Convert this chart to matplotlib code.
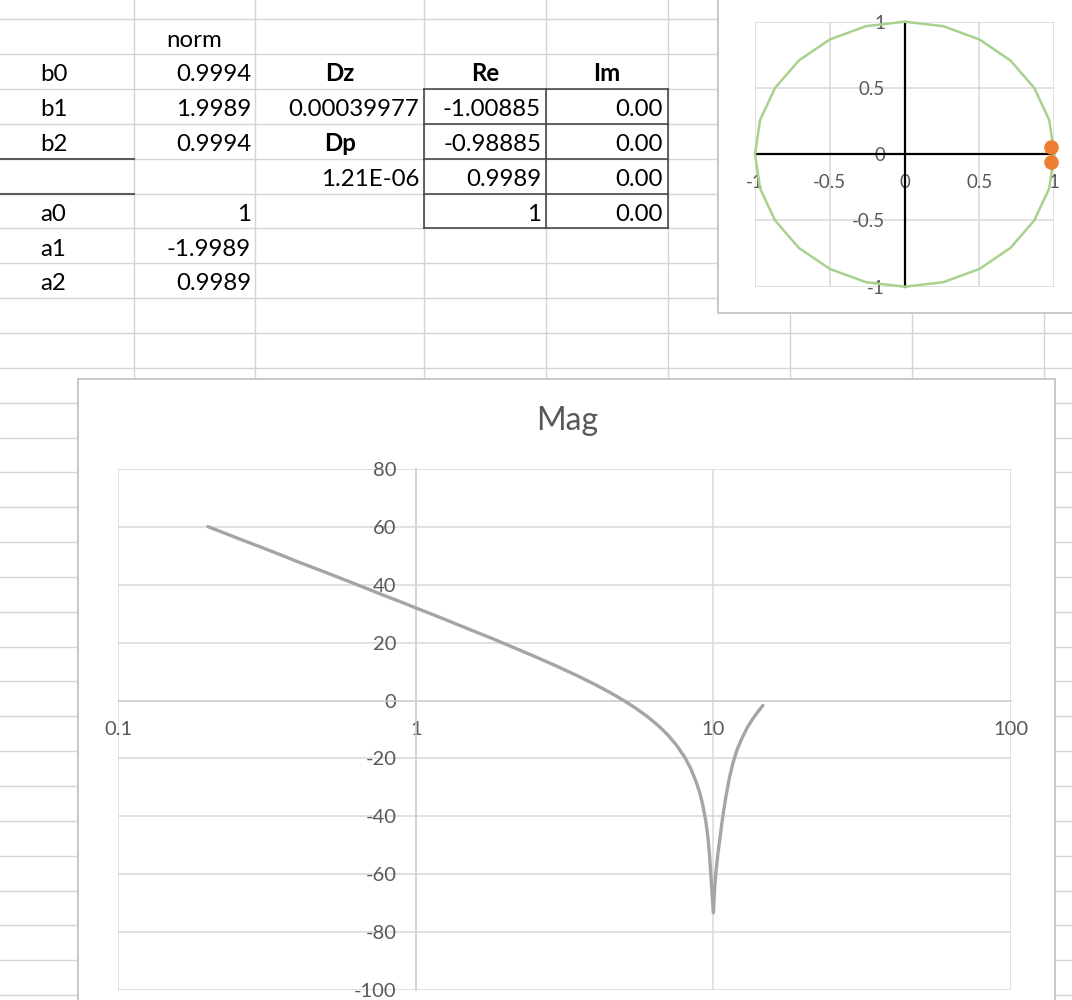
import matplotlib
matplotlib.use("Agg")
import matplotlib.pyplot as plt
from matplotlib.patches import Rectangle

plt.rcParams['font.family'] = ['Lato', 'DejaVu Sans']
plt.rcParams['axes.unicode_minus'] = False

# --- sheet contents ---
coef_names = ['b0', 'b1', 'b2', 'a0', 'a1', 'a2']
coef_vals = ['0.9994', '1.9989', '0.9994', '1', '-1.9989', '0.9989']
coef_rows = [3, 4, 5, 7, 8, 9]
dz_val = '0.00039977'
dp_val = '1.21E-06'
roots_re = ['-1.00885', '-0.98885', '0.9989', '1']
roots_im = ['0.00', '0.00', '0.00', '0.00']

# --- unit circle chart ---
circle_x = [1, 0.9659, 0.866, 0.7071, 0.5, 0.2588, 0, -0.2588, -0.5, -0.7071, -0.866, -0.9659,
            -1, -0.9659, -0.866, -0.7071, -0.5, -0.2588, 0, 0.2588, 0.5, 0.7071, 0.866, 0.9659, 1]
circle_y = [0, 0.2588, 0.5, 0.7071, 0.866, 0.9659, 1, 0.9659, 0.866, 0.7071, 0.5, 0.2588,
            0, -0.2588, -0.5, -0.7071, -0.866, -0.9659, -1, -0.9659, -0.866, -0.7071, -0.5, -0.2588, 0]
dot_x = [0.978, 0.978]
dot_y = [0.057, -0.057]
circ_ticks = [-1, -0.5, 0, 0.5, 1]
circ_labels = ['-1', '-0.5', '0', '0.5', '1']

# --- magnitude chart ---
freq = [0.2, 0.25, 0.3, 0.35, 0.4, 0.5, 0.6, 0.7, 0.8, 0.9, 1.0, 1.2, 1.4, 1.6, 1.8, 2.0,
        2.5, 3.0, 3.5, 4.0, 4.5, 5.0, 5.5, 6.0, 6.5, 7.0, 7.5, 8.0, 8.4, 8.8, 9.0, 9.2,
        9.4, 9.5, 9.6, 9.7, 9.8, 9.9, 10.0, 10.1, 10.2, 10.35, 10.5, 10.72, 11.0, 11.3,
        11.6, 12.0, 12.5, 13.0, 13.5, 14.0, 14.66]
mag_db = [60.1, 56.2, 53.1, 50.4, 48.0, 44.2, 41.0, 38.3, 35.9, 33.9, 32.0, 28.8, 26.0, 23.6, 21.5, 19.5,
          15.3, 11.7, 8.5, 5.55, 2.74, 0.0, -2.74, -5.55, -8.5, -11.7, -15.3, -19.5, -23.6, -28.8, -32.0, -35.9,
          -41.0, -44.2, -48.0, -53.1, -60.1, -67.0, -73.3, -64.5, -59.0, -53.0, -48.0, -41.0, -33.5, -27.0,
          -22.0, -17.0, -12.8, -9.3, -6.6, -4.3, -1.7]
mag_xticks = [0.1, 1, 10, 100]
mag_xlabels = ['0.1', '1', '10', '100']
mag_yticks = [-100, -80, -60, -40, -20, 0, 20, 40, 60, 80]

W, H = 1072, 1000
fig = plt.figure(figsize=(W / 100, H / 100), dpi=100)
bg = fig.add_axes([0, 0, 1, 1])
bg.set_xlim(0, W)
bg.set_ylim(H, 0)
bg.axis('off')

grid_c = '#D4D4D4'
col_x = [133.5, 255.3, 424.3, 545.7, 667.5, 790, 912, 1044]
row_y = [19.3 + 34.85 * k for k in range(29)]
for x in col_x:
    bg.plot([x, x], [0, H], color=grid_c, lw=1.0, zorder=1)
for y in row_y:
    bg.plot([0, W], [y, y], color=grid_c, lw=1.0, zorder=1)

def bottom(r):
    return row_y[r - 1] - 7.6

fs = 17.3
bg.text(194, bottom(2), 'norm', ha='center', va='baseline', fontsize=fs)
for name, val, r in zip(coef_names, coef_vals, coef_rows):
    bg.text(40, bottom(r), name, ha='left', va='baseline', fontsize=fs)
    bg.text(251, bottom(r), val, ha='right', va='baseline', fontsize=fs)
bg.text(340, bottom(3), 'Dz', ha='center', va='baseline', fontsize=fs, fontweight='bold')
bg.text(485, bottom(3), 'Re', ha='center', va='baseline', fontsize=fs, fontweight='bold')
bg.text(607, bottom(3), 'Im', ha='center', va='baseline', fontsize=fs, fontweight='bold')
bg.text(419, bottom(4), dz_val, ha='right', va='baseline', fontsize=fs)
bg.text(340, bottom(5), 'Dp', ha='center', va='baseline', fontsize=fs, fontweight='bold')
bg.text(419, bottom(6), dp_val, ha='right', va='baseline', fontsize=fs)
for i, (re, im) in enumerate(zip(roots_re, roots_im)):
    bg.text(541, bottom(4 + i), re, ha='right', va='baseline', fontsize=fs)
    bg.text(663, bottom(4 + i), im, ha='right', va='baseline', fontsize=fs)

# cell borders
bc = '#4A4A4A'
for y in row_y[2:7]:
    bg.plot([424.3, 667.5], [y, y], color=bc, lw=1.2, zorder=2)
for x in [424.3, 545.7, 667.5]:
    bg.plot([x, x], [row_y[2], row_y[6]], color=bc, lw=1.2, zorder=2)
for y in [row_y[4], row_y[5]]:
    bg.plot([0, 133.5], [y, y], color='#5A5A5A', lw=1.5, zorder=2)

# chart boxes
bg.add_patch(Rectangle((718, -5), 400, 318.3, facecolor='white', edgecolor='#C8C8C8', lw=1.4, zorder=3))
bg.add_patch(Rectangle((77.5, 379), 977, 640, facecolor='white', edgecolor='#C8C8C8', lw=1.4, zorder=3))
bg.text(567, 430, 'Mag', ha='center', va='baseline', fontsize=23, color='#595959', zorder=4)

tick_c = '#595959'
gl = '#D9D9D9'

# unit circle
l, r, t, b = 755, 1054.3, 21.7, 286.7
ax1 = fig.add_axes([l / W, 1 - b / H, (r - l) / W, (b - t) / H])
ax1.set_facecolor('none')
ax1.set_xlim(-1, 1)
ax1.set_ylim(-1, 1)
ax1.set_xticks(circ_ticks, circ_labels)
ax1.set_yticks(circ_ticks, circ_labels)
ax1.grid(True, color=gl, lw=1.1)
for g in ax1.get_xgridlines() + ax1.get_ygridlines():
    g.set_clip_on(False)
for s in ['top', 'right']:
    ax1.spines[s].set_visible(False)
ax1.spines['left'].set_position(('data', 0))
ax1.spines['bottom'].set_position(('data', 0))
for s in ['left', 'bottom']:
    ax1.spines[s].set_color('black')
    ax1.spines[s].set_linewidth(1.6)
ax1.tick_params(length=0, labelsize=13.5, labelcolor=tick_c)
ax1.tick_params(axis='y', pad=14)
ax1.tick_params(axis='x', pad=14)
ax1.plot(circle_x, circle_y, color='#A9D18E', lw=1.8, clip_on=False, zorder=3)
ax1.plot(dot_x, dot_y, 'o', color='#ED7D31', ms=9.5, clip_on=False, zorder=4)

# magnitude
l, r, t, b = 118.3, 1011, 469, 990
ax2 = fig.add_axes([l / W, 1 - b / H, (r - l) / W, (b - t) / H])
ax2.set_facecolor('none')
ax2.set_xscale('log')
ax2.set_xlim(0.1, 100)
ax2.set_ylim(-100, 80)
ax2.set_xticks(mag_xticks, mag_xlabels)
ax2.minorticks_off()
ax2.set_yticks(mag_yticks)
ax2.grid(True, color=gl, lw=1.1)
for g in ax2.get_xgridlines() + ax2.get_ygridlines():
    g.set_clip_on(False)
for s in ['top', 'right']:
    ax2.spines[s].set_visible(False)
ax2.spines['left'].set_position(('data', 1))
ax2.spines['bottom'].set_position(('data', 0))
for s in ['left', 'bottom']:
    ax2.spines[s].set_color('#D0D0D0')
    ax2.spines[s].set_linewidth(1.1)
ax2.tick_params(length=0, labelsize=14.5, labelcolor=tick_c)
ax2.tick_params(axis='y', pad=14)
ax2.tick_params(axis='x', pad=14.5)
ax2.plot(freq, mag_db, color='#A5A5A5', lw=2.4, solid_capstyle='round', zorder=3)

fig.savefig('out.png', dpi=100)
